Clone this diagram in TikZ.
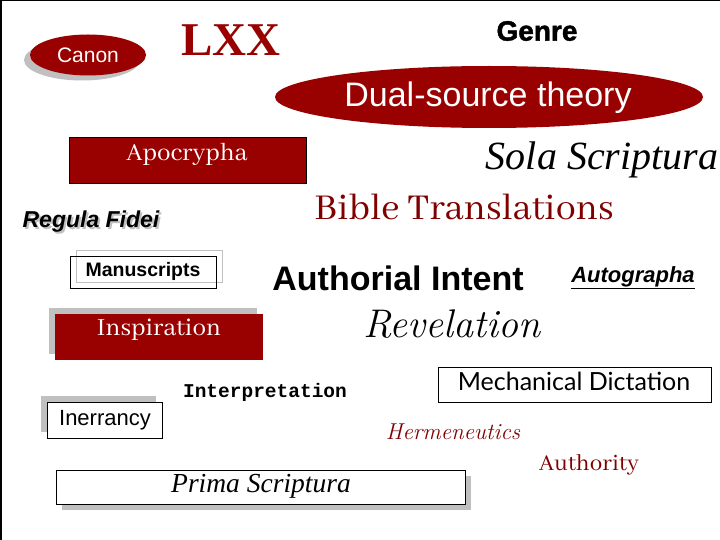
\documentclass[tikz,border=0pt]{standalone}
\usepackage{fontspec}
\usetikzlibrary{shapes.geometric}
\newfontfamily\arialf{Liberation Sans}
\newfontfamily\heavyf{Liberation Sans}[BoldFeatures={FakeBold=1.6}]
\newfontfamily\timesf{Liberation Serif}
\newfontfamily\monof{Liberation Mono}
\newfontfamily\geof{Lato}
\newfontfamily\garf{Abhaya Libre}
\definecolor{dred}{HTML}{990000}
\definecolor{tred}{HTML}{800000}
\definecolor{shad}{HTML}{C0C0C0}
\newcommand{\fs}[1]{\fontsize{#1}{#1}\selectfont}
\tikzset{
  txt/.style={inner sep=0pt, anchor=center},
  redbox/.style={draw=black, fill=dred, line width=1pt, inner sep=0pt},
  whitebox/.style={draw=black, fill=white, line width=1pt, inner sep=0pt},
  shadowbox/.style={fill=shad, draw=none, inner sep=0pt},
  redell/.style={ellipse, fill=dred, draw=none, inner sep=0pt},
  shadell/.style={ellipse, fill=shad, draw=none, inner sep=0pt},
}
\begin{document}
\begin{tikzpicture}[x=1pt,y=-1pt]
\useasboundingbox (0,0) rectangle (720,540);
\fill[white] (0,0) rectangle (720,540);
\draw[line width=3pt] (0,540) -- (0,0) -- (720,0);

% Canon
\node[shadell, minimum width=116pt, minimum height=41pt] (canonsh) at (82,60) {};
\node[redell, minimum width=116pt, minimum height=41pt] (canon) at (88,55) {};
\node[txt, text=white] (canont) at (88,55) {\arialf\fs{21}Canon};

% LXX
\node[txt, text=dred] (lxx) at (231,40) {\timesf\bfseries\fs{47}LXX};

% Genre
\node[txt] (genre) at (537,31) {\heavyf\bfseries\fs{28}Genre};

% Dual-source theory
\node[redell, minimum width=428pt, minimum height=62pt] (dual) at (489,97) {};
\node[txt, text=white] (dualt) at (488,98) {\arialf\fs{34}Dual-source theory};

% Apocrypha
\node[redbox, minimum width=237pt, minimum height=46pt] (apoc) at (187.5,161) {};
\node[txt, text=white] (apoct) at (187,154) {\garf\fs{27}Apocrypha};

% Sola Scriptura
\node[txt] (sola) at (602,160) {\timesf\itshape\fs{40}Sola Scriptura};

% Bible Translations
\node[txt, text=tred] (bible) at (464,207) {\garf\fs{40}Bible Translations};

% Regula Fidei
\node[txt, text=shad] (regsh) at (93,224) {\arialf\bfseries\itshape\fs{23}Regula Fidei};
\node[txt] (reg) at (91,222) {\arialf\bfseries\itshape\fs{23}Regula Fidei};

% Manuscripts
\node[draw=shad, line width=1pt, inner sep=0pt, minimum width=146pt, minimum height=32pt] (manush) at (149,266) {};
\node[draw=black, line width=1pt, inner sep=0pt, minimum width=146pt, minimum height=32pt] (manu) at (143,272) {};
\node[txt] (manut) at (143,271) {\arialf\bfseries\fs{19.5}Manuscripts};

% Authorial Intent
\node[txt] (auth) at (398,278) {\arialf\bfseries\fs{34}Authorial Intent};

% Autographa
\node[txt] (autog) at (633,278) {\arialf\bfseries\itshape\fs{22}\underline{Autographa}};

% Inspiration
\node[shadowbox, minimum width=208pt, minimum height=46pt] (inspsh) at (153,331) {};
\node[fill=dred, inner sep=0pt, minimum width=208pt, minimum height=46pt] (insp) at (159,337) {};
\node[txt, text=white] (inspt) at (159,330) {\garf\fs{27}Inspiration};

% Revelation
\node[txt] (rev) at (452,324) {\itshape\fs{40}Revelation};

% Mechanical Dictation
\node[whitebox, minimum width=273pt, minimum height=35pt] (mech) at (574.5,384.5) {};
\node[txt] (mecht) at (574,381) {\geof\fs{25}Mechanical Dictation};

% Interpretation
\node[txt] (interp) at (265,392) {\monof\bfseries\fs{19.5}Interpretation};

% Inerrancy
\node[shadowbox, minimum width=115pt, minimum height=36pt] (inersh) at (98.5,414) {};
\node[whitebox, minimum width=115pt, minimum height=36pt] (iner) at (104.5,420) {};
\node[txt] (inert) at (105,420) {\arialf\fs{22}Inerrancy};

% Hermeneutics
\node[txt, text=tred] (herm) at (453,432) {\itshape\fs{23}Hermeneutics};

% Authority
\node[txt, text=tred] (autho) at (589,465) {\garf\fs{25}Authority};

% Prima Scriptura
\node[shadowbox, minimum width=409pt, minimum height=34pt] (primsh) at (266.5,493) {};
\node[whitebox, minimum width=409pt, minimum height=34pt] (prim) at (260.5,487) {};
\node[txt] (primt) at (261,486) {\timesf\itshape\fs{27.5}Prima Scriptura};
\end{tikzpicture}
\end{document}
